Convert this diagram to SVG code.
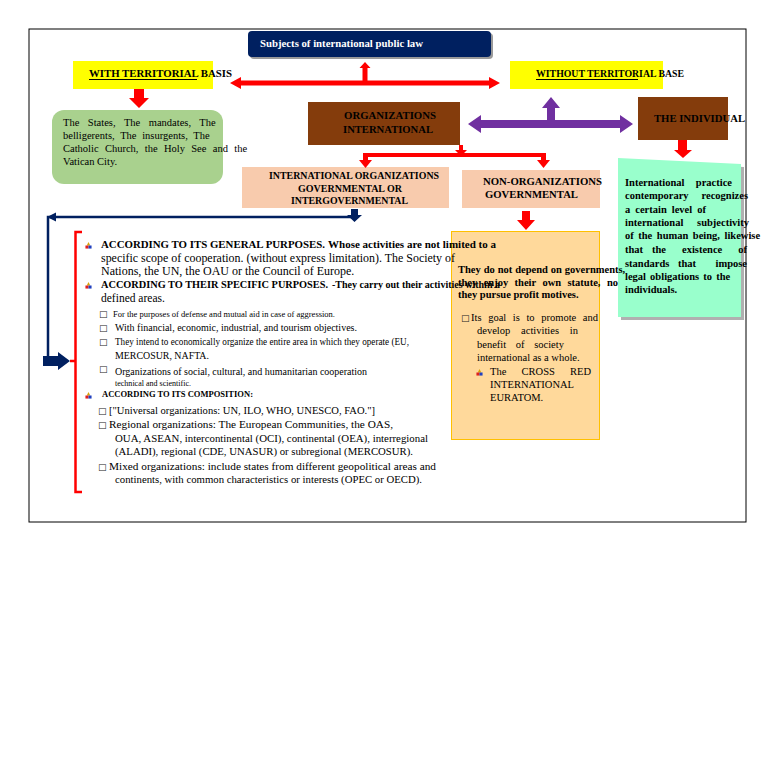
<svg xmlns="http://www.w3.org/2000/svg" width="768" height="762" viewBox="0 0 768 762">
<style>
.s{font-family:"Liberation Serif","Times New Roman",serif;fill:#000}
.b{font-weight:bold}
.w{fill:#fff}
.e{text-anchor:end}
.box{font-family:"DejaVu Sans",sans-serif;font-size:9px;fill:#222}
.red{fill:#ff0000}
.pur{fill:#7030a0}
.navy{fill:#002060}
</style>
<defs>
<symbol id="bul" viewBox="0 0 8 8">
<polygon points="4,0 6,4 2,4" fill="#d9a400"/>
<rect x="0.5" y="4" width="3.5" height="3.5" fill="#e02020"/>
<rect x="4" y="4" width="3.5" height="3.5" fill="#2040c0"/>
</symbol>
</defs>
<rect width="768" height="762" fill="#fff"/>
<rect x="29" y="29" width="717" height="493" fill="none" stroke="#000" stroke-width="1"/>

<g id="title">
<rect x="250" y="33" width="243" height="26" rx="4" fill="#9a9a9a"/>
<rect x="248" y="31" width="243" height="26" rx="4" fill="#002060"/>
<text class="s b w" x="260" y="47" font-size="10.5" textLength="163" lengthAdjust="spacingAndGlyphs">Subjects of international public law</text>
</g>

<g id="with-territorial">
<rect x="73" y="61" width="140" height="28" fill="#ffff00"/>
<text class="s b" x="89" y="77" font-size="10.5" textLength="143" lengthAdjust="spacingAndGlyphs">WITH TERRITORIAL BASIS</text>
<line x1="89" y1="79.5" x2="197" y2="79.5" stroke="#000" stroke-width="1"/>
</g>

<g id="without-territorial">
<rect x="510" y="61" width="153" height="28" fill="#ffff00"/>
<text class="s b" x="536" y="77" font-size="10.5" textLength="148" lengthAdjust="spacingAndGlyphs">WITHOUT TERRITORIAL BASE</text>
<line x1="536" y1="79.5" x2="638" y2="79.5" stroke="#000" stroke-width="1"/>
</g>

<g id="states">
<rect x="52" y="110" width="171" height="74" rx="12" fill="#a9d18e"/>
<text class="s" font-size="10.5">
<tspan x="63" y="126" word-spacing="5.9">The States, The mandates, The</tspan>
<tspan x="63" y="139" word-spacing="3.1">belligerents, The insurgents, The</tspan>
<tspan x="63" y="152" word-spacing="3.7">Catholic Church, the Holy See and the</tspan>
<tspan x="63" y="165">Vatican City.</tspan>
</text>
</g>

<g id="organizations">
<rect x="308" y="102" width="152" height="43" fill="#843c0c"/>
<text class="s b" font-size="10.5">
<tspan x="344" y="119" textLength="92" lengthAdjust="spacingAndGlyphs">ORGANIZATIONS</tspan>
<tspan x="343" y="133" textLength="90" lengthAdjust="spacingAndGlyphs">INTERNATIONAL</tspan>
</text>
</g>

<g id="individual">
<rect x="638" y="97" width="90" height="43" fill="#843c0c"/>
<text class="s b" x="654" y="122" font-size="10.5" textLength="91" lengthAdjust="spacingAndGlyphs">THE INDIVIDUAL</text>
</g>

<g id="individual-text">
<polygon points="621,161 744,167 744,320 621,320" fill="#b0b0b0"/>
<polygon points="618,158 741,164 741,317 618,317" fill="#99ffcc"/>
<g class="s b" font-size="10.5">
<text x="625" y="186">International</text><text class="e" x="732" y="186">practice</text>
<text x="625" y="199">contemporary</text><text class="e" x="748" y="199">recognizes</text>
<text x="625" y="213" word-spacing="2.4">a certain level of</text>
<text x="625" y="226">international</text><text class="e" x="749" y="226">subjectivity</text>
<text x="625" y="239" word-spacing="1.9">of the human being, likewise</text>
<text x="625" y="253">that</text><text x="652" y="253">the</text><text x="682" y="253">existence</text><text class="e" x="747" y="253">of</text>
<text x="625" y="267">standards</text><text x="678" y="267">that</text><text class="e" x="747" y="267">impose</text>
<text x="625" y="280" word-spacing="1.5">legal obligations to the</text>
<text x="625" y="293">individuals.</text>
</g>
</g>

<g id="igo">
<rect x="242" y="167" width="207" height="41" fill="#f8cbad"/>
<text class="s b" font-size="9.7">
<tspan x="269" y="179" textLength="170" lengthAdjust="spacingAndGlyphs">INTERNATIONAL ORGANIZATIONS</tspan>
<tspan x="298" y="192" textLength="104" lengthAdjust="spacingAndGlyphs">GOVERNMENTAL OR</tspan>
<tspan x="291" y="204" textLength="117" lengthAdjust="spacingAndGlyphs">INTERGOVERNMENTAL</tspan>
</text>
</g>

<g id="ngo">
<rect x="462" y="170" width="138" height="38" fill="#f8cbad"/>
<text class="s b" font-size="10.5">
<tspan x="483" y="185" textLength="119" lengthAdjust="spacingAndGlyphs">NON-ORGANIZATIONS</tspan>
<tspan x="485" y="198" textLength="93" lengthAdjust="spacingAndGlyphs">GOVERNMENTAL</tspan>
</text>
</g>

<g id="ngo-text">
<rect x="451.5" y="231.5" width="148" height="208" fill="#ffd99b" stroke="#ffc000" stroke-width="1"/>
<text class="s b" font-size="10.5">
<tspan x="458" y="273" word-spacing="0.3">They do not depend on governments,</tspan>
<tspan x="458" y="286" word-spacing="3.8">they enjoy their own statute, no</tspan>
<tspan x="458" y="298">they pursue profit motives.</tspan>
</text>
<text class="box" x="461" y="321">□</text>
<text class="s" font-size="10.5">
<tspan x="471" y="321" word-spacing="4">Its goal is to promote and</tspan>
<tspan x="477" y="334" word-spacing="8.2">develop activities in</tspan>
<tspan x="477" y="348" word-spacing="7">benefit of society</tspan>
<tspan x="477" y="361">international as a whole.</tspan>
</text>
<use href="#bul" x="476" y="369" width="7" height="7"/>
<text class="s" font-size="10.5">
<tspan x="490" y="375" word-spacing="12.6">The CROSS RED</tspan>
<tspan x="490" y="388">INTERNATIONAL</tspan>
<tspan x="490" y="401">EURATOM.</tspan>
</text>
</g>

<g id="igo-list">
<use href="#bul" x="85" y="242" width="7" height="7"/>
<text class="s b" x="101" y="248" font-size="11" textLength="224" lengthAdjust="spacingAndGlyphs">ACCORDING TO ITS GENERAL PURPOSES.</text>
<text class="s b" x="328" y="248" font-size="11" textLength="168" lengthAdjust="spacingAndGlyphs">Whose activities are not limited to a</text>
<text class="s" font-size="12">
<tspan x="101" y="262" textLength="354" lengthAdjust="spacingAndGlyphs">specific scope of cooperation. (without express limitation). The Society of</tspan>
<tspan x="101" y="275">Nations, the UN, the OAU or the Council of Europe.</tspan>
</text>
<use href="#bul" x="85" y="282" width="7" height="7"/>
<text class="s b" x="101" y="288" font-size="10.5" textLength="227" lengthAdjust="spacingAndGlyphs">ACCORDING TO THEIR SPECIFIC PURPOSES.</text>
<text class="s b" x="332" y="288" font-size="10" textLength="168" lengthAdjust="spacingAndGlyphs">-They carry out their activities within a</text>
<text class="s" x="101" y="302" font-size="11.5">defined areas.</text>
<text class="box" x="99" y="317">□</text>
<text class="s" x="113" y="317" font-size="8.5" textLength="222" lengthAdjust="spacingAndGlyphs">For the purposes of defense and mutual aid in case of aggression.</text>
<text class="box" x="99" y="331">□</text>
<text class="s" x="115" y="331" font-size="10" textLength="242" lengthAdjust="spacingAndGlyphs">With financial, economic, industrial, and tourism objectives.</text>
<text class="box" x="99" y="345">□</text>
<text class="s" font-size="9.5">
<tspan x="115" y="345" textLength="294" lengthAdjust="spacingAndGlyphs">They intend to economically organize the entire area in which they operate (EU,</tspan>
<tspan x="115" y="359" font-size="10" textLength="94" lengthAdjust="spacingAndGlyphs">MERCOSUR, NAFTA.</tspan>
</text>
<text class="box" x="99" y="372">□</text>
<text class="s" x="115" y="375" font-size="10" textLength="252" lengthAdjust="spacingAndGlyphs">Organizations of social, cultural, and humanitarian cooperation</text>
<text class="s" x="115" y="386" font-size="8" textLength="76" lengthAdjust="spacingAndGlyphs">technical and scientific.</text>
<use href="#bul" x="85" y="392" width="7" height="7"/>
<text class="s b" x="102" y="397" font-size="8.5" textLength="151" lengthAdjust="spacingAndGlyphs">ACCORDING TO ITS COMPOSITION:</text>
<text class="box" x="98" y="414">□</text>
<text class="box" x="98" y="428">□</text>
<text class="box" x="98" y="470">□</text>
<text class="s" font-size="11">
<tspan x="109" y="414" textLength="266" lengthAdjust="spacingAndGlyphs">["Universal organizations: UN, ILO, WHO, UNESCO, FAO."]</tspan>
<tspan x="109" y="428" textLength="284" lengthAdjust="spacingAndGlyphs">Regional organizations: The European Communities, the OAS,</tspan>
<tspan x="115" y="442" textLength="313" lengthAdjust="spacingAndGlyphs">OUA, ASEAN, intercontinental (OCI), continental (OEA), interregional</tspan>
<tspan x="115" y="455" textLength="298" lengthAdjust="spacingAndGlyphs">(ALADI), regional (CDE, UNASUR) or subregional (MERCOSUR).</tspan>
<tspan x="109" y="470" textLength="327" lengthAdjust="spacingAndGlyphs">Mixed organizations: include states from different geopolitical areas and</tspan>
<tspan x="115" y="483" textLength="307" lengthAdjust="spacingAndGlyphs">continents, with common characteristics or interests (OPEC or OECD).</tspan>
</text>
</g>

<g id="connectors">
<polygon class="red" points="230,83 241,77 241,80.5 362.5,80.5 362.5,68 359.5,68 365,62 370.5,68 367.5,68 367.5,80.5 489,80.5 489,77 500,83 489,89 489,85.5 241,85.5 241,89"/>
<polygon class="red" points="134,89 144,89 144,98 149,98 139,108 129,98 134,98"/>
<polygon class="red" points="459,145 463,145 463,150 467,150 461,156 455,150 459,150"/>
<rect class="red" x="363" y="153" width="183" height="4"/>
<polygon class="red" points="363,153 368,153 368,160 372,160 365.5,168 359,160 363,160"/>
<polygon class="red" points="541,153 546,153 546,160 550,160 543.5,168 537,160 541,160"/>
<polygon class="red" points="678,140 687,140 687,150 692,150 683,158 674,150 678,150"/>
<polygon class="red" points="522,211 530,211 530,220 535,220 526,230 517,220 522,220"/>
<polygon class="pur" points="468,124 481,115 481,120 547,120 547,108 542,108 551,97 560,108 555,108 555,120 620,120 620,115 633,124 620,133 620,128 481,128 481,133"/>
<polygon class="navy" points="351,209 358,209 358,215 362,215 354.5,222 347,215 351,215"/>
<polyline points="354,217 48,217 48,357" fill="none" stroke="#002060" stroke-width="2.5"/>
<polygon class="navy" points="47,217 56,212.5 56,221.5"/>
<polygon class="navy" points="43,356 58,356 58,352 70,361 58,370 58,366 43,366"/>
<path d="M82,232 H75.5 V492 H82 M70,361 H75.5" fill="none" stroke="#ff0000" stroke-width="2.5"/>
</g>
</svg>
